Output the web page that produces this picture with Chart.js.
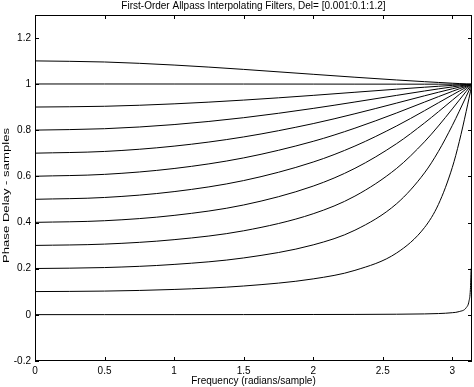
<!DOCTYPE html>
<html>
<head>
<meta charset="utf-8">
<script src="https://cdn.jsdelivr.net/npm/chart.js@4.4.1/dist/chart.umd.min.js"></script>
<style>
  html, body { margin: 0; padding: 0; background: #fff; }
</style>
</head>
<body>
<canvas id="grafico" width="474" height="387"></canvas>
<script>
// Frequências (rad/amostra) onde os atrasos foram lidos
const frequencias = [0, 0.5, 1.0, 1.5, 2.0, 2.3, 2.6, 2.8, 2.9, 3.0, 3.05, 3.1, 3.12, 3.13, 3.1354];

// Atraso de fase (amostras), uma curva por valor de Del
const atraso001 = [0.001, 0.0010, 0.0011, 0.0012, 0.0016, 0.0019, 0.0028, 0.0041, 0.0057, 0.0094, 0.0143, 0.0310, 0.0592, 0.1092, 0.2010];
const atraso101 = [0.101, 0.1031, 0.1102, 0.1251, 0.1560, 0.1930, 0.2684, 0.3784, 0.4786, 0.6391, 0.7507, 0.8824, 0.9387, 0.9671, 0.9826];
const atraso201 = [0.201, 0.2051, 0.2187, 0.2468, 0.3034, 0.3671, 0.4821, 0.6154, 0.7086, 0.8210, 0.8830, 0.9469, 0.9725, 0.9853, 0.9922];
const atraso301 = [0.301, 0.3068, 0.3260, 0.3645, 0.4384, 0.5149, 0.6352, 0.7503, 0.8189, 0.8929, 0.9310, 0.9689, 0.9839, 0.9914, 0.9955];
const atraso401 = [0.401, 0.4081, 0.4313, 0.4764, 0.5583, 0.6353, 0.7425, 0.8319, 0.8806, 0.9305, 0.9554, 0.9800, 0.9897, 0.9945, 0.9971];
const atraso501 = [0.501, 0.5089, 0.5343, 0.5822, 0.6626, 0.7319, 0.8191, 0.8851, 0.9194, 0.9535, 0.9702, 0.9866, 0.9931, 0.9963, 0.9980];
const atraso601 = [0.601, 0.6091, 0.6345, 0.6805, 0.7524, 0.8094, 0.8754, 0.9224, 0.9459, 0.9689, 0.9801, 0.9911, 0.9954, 0.9975, 0.9987];
const atraso701 = [0.701, 0.7085, 0.7315, 0.7714, 0.8292, 0.8719, 0.9182, 0.9497, 0.9651, 0.9800, 0.9872, 0.9943, 0.9971, 0.9984, 0.9992];
const atraso801 = [0.801, 0.8070, 0.8250, 0.8548, 0.8951, 0.9229, 0.9516, 0.9705, 0.9796, 0.9883, 0.9926, 0.9967, 0.9983, 0.9991, 0.9995];
const atraso901 = [0.901, 0.9043, 0.9148, 0.9311, 0.9516, 0.9651, 0.9784, 0.9869, 0.9910, 0.9948, 0.9967, 0.9985, 0.9992, 0.9996, 0.9998];
const atraso1001 = [1.001, 1.0010, 1.0008, 1.0007, 1.0005, 1.0003, 1.0002, 1.0001, 1.0001, 1.0000, 1.0000, 1.0000, 1.0000, 1.0000, 1.0000];
const atraso1101 = [1.101, 1.0963, 1.0830, 1.0642, 1.0429, 1.0302, 1.0183, 1.0110, 1.0076, 1.0043, 1.0028, 1.0012, 1.0006, 1.0003, 1.0002];

const curvas = [atraso001, atraso101, atraso201, atraso301, atraso401, atraso501,
                atraso601, atraso701, atraso801, atraso901, atraso1001, atraso1101];

// Marcas dos eixos
const ticksX = [0, 0.5, 1, 1.5, 2, 2.5, 3];
const ticksY = [-0.2, 0, 0.2, 0.4, 0.6, 0.8, 1, 1.2];

const titulo = 'First-Order Allpass Interpolating Filters, Del= [0.001:0.1:1.2]';
const rotuloX = 'Frequency (radians/sample)';
const rotuloY = 'Phase Delay - samples';

const FONTE = '"Liberation Sans", Arial, Helvetica, sans-serif';

// Moldura, marcas para dentro e textos no estilo MATLAB
const molduraMatlab = {
    id: 'molduraMatlab',
    afterDraw(chart) {
        const { ctx, chartArea: a, scales: { x, y } } = chart;
        ctx.save();
        ctx.strokeStyle = '#000';
        ctx.lineWidth = 1;
        ctx.strokeRect(a.left + 0.5, a.top + 0.5, a.right - a.left - 1, a.bottom - a.top - 1);

        ctx.beginPath();
        ticksX.forEach(v => {
            const px = Math.round(x.getPixelForValue(v)) + 0.5;
            ctx.moveTo(px, a.bottom); ctx.lineTo(px, a.bottom - 4);
            ctx.moveTo(px, a.top); ctx.lineTo(px, a.top + 4);
        });
        ticksY.forEach(v => {
            const py = Math.round(y.getPixelForValue(v)) + 0.5;
            ctx.moveTo(a.left, py); ctx.lineTo(a.left + 4, py);
            ctx.moveTo(a.right, py); ctx.lineTo(a.right - 4, py);
        });
        ctx.stroke();

        ctx.fillStyle = '#000';
        ctx.font = '10px ' + FONTE;
        ctx.textAlign = 'center';
        ctx.textBaseline = 'alphabetic';
        const meio = (a.left + a.right) / 2;
        ctx.fillText(titulo, meio, 8.5);
        ctx.fillText(rotuloX, meio, 383.5);

        // rótulo vertical, um pouco esticado como no original
        ctx.font = '9px ' + FONTE;
        const esticar = 135 / ctx.measureText(rotuloY).width;
        ctx.translate(8.5, 195.5);
        ctx.rotate(-Math.PI / 2);
        ctx.scale(esticar, 1);
        ctx.fillText(rotuloY, 0, 0);
        ctx.restore();
    }
};

const ctx = document.getElementById('grafico').getContext('2d');
new Chart(ctx, {
    type: 'line',
    data: {
        datasets: curvas.map(c => ({
            data: frequencias.map((f, i) => ({ x: f, y: c[i] })),
            borderColor: '#000',
            borderWidth: 1,
            pointRadius: 0,
            fill: false,
            cubicInterpolationMode: 'monotone'
        }))
    },
    options: {
        responsive: false,
        animation: false,
        devicePixelRatio: 1,
        layout: { padding: { top: 15, right: 2, left: 0, bottom: 0 } },
        plugins: {
            legend: { display: false },
            tooltip: { enabled: false }
        },
        scales: {
            x: {
                type: 'linear',
                min: 0,
                max: Math.PI,
                afterBuildTicks: s => { s.ticks = ticksX.map(v => ({ value: v })); },
                afterFit: s => { s.height = 26; },
                grid: { display: false, drawTicks: false },
                border: { display: false },
                ticks: {
                    color: '#000',
                    font: { family: FONTE, size: 10 },
                    padding: 4,
                    maxRotation: 0,
                    autoSkip: false,
                    callback: v => String(v)
                }
            },
            y: {
                type: 'linear',
                min: -0.2,
                max: 1.3,
                afterBuildTicks: s => { s.ticks = ticksY.map(v => ({ value: v })); },
                afterFit: s => { s.width = 35; },
                grid: { display: false, drawTicks: false },
                border: { display: false },
                ticks: {
                    color: '#000',
                    font: { family: FONTE, size: 10 },
                    padding: 4,
                    autoSkip: false,
                    callback: v => String(v)
                }
            }
        }
    },
    plugins: [molduraMatlab]
});
</script>
</body>
</html>
